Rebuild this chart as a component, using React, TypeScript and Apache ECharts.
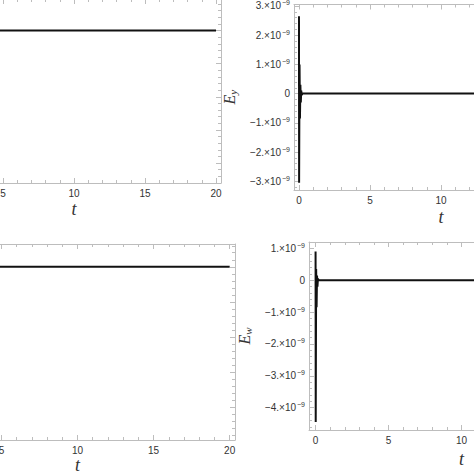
import React, { useEffect, useRef } from "react";
import * as echarts from "echarts";

// Top-left panel (constant series, y labels off-frame)
const exT = [0, 20];
const exValues = [1, 1];
// Bottom-left panel
const ezT = [0, 20];
const ezValues = [1, 1];
// Top-right panel E_y
const eyT = [0, 0.01, 0.04, 0.07, 0.1, 0.13, 0.16, 0.19, 0.25, 20];
const eyValues = [2.65e-9, -3.05e-9, 1.0e-9, -0.85e-9, 0.3e-9, -0.3e-9, 0.1e-9, -0.05e-9, 0, 0];
// Bottom-right panel E_w
const ewT = [0, 0.01, 0.04, 0.07, 0.1, 0.13, 0.16, 0.22, 20];
const ewValues = [0.9e-9, -4.45e-9, 0.35e-9, -0.85e-9, 0.15e-9, -0.2e-9, 0.05e-9, 0, 0];
// Visible tick labels
const tTicksLeft = [5, 10, 15, 20];
const tTicksRight = [0, 5, 10];

const FRAME = "#bdbdbd";
const LABEL = "#333";

function sciLabel(v: number): string {
  const n = Math.round(v / 1e-9);
  if (n === 0) return "{m|0}";
  const s = n < 0 ? "\u2212" + Math.abs(n) : String(n);
  return "{m|" + s + ".\u00d710}{p|\u22129}";
}

export default function App() {
  const ref = useRef<HTMLDivElement>(null);
  useEffect(() => {
    if (!ref.current) return;
    const chart = echarts.init(ref.current, undefined, { renderer: "svg" });

    const panels = [
      { grid: { left: -73, top: -1, width: 294, height: 184 }, x: [-0.35, 20.35], y: [0.08, 1.19], t: exT, v: exValues, sci: false, name: "", tGap: 17, ticks: tTicksLeft },
      { grid: { left: 294, top: 4.5, width: 294, height: 185.5 }, x: [-0.35, 20.35], y: [-3.3e-9, 3.05e-9], t: eyT, v: eyValues, sci: true, name: "{e|E}{s|y}", tGap: 18, ticks: tTicksRight },
      { grid: { left: -80, top: 244, width: 315, height: 196 }, x: [-0.35, 20.35], y: [0.01, 1.13], t: ezT, v: ezValues, sci: false, name: "", tGap: 15.5, ticks: tTicksLeft },
      { grid: { left: 309, top: 242, width: 305, height: 188 }, x: [-0.45, 20.45], y: [-4.7e-9, 1.2e-9], t: ewT, v: ewValues, sci: true, name: "{e|E}{s|w}", tGap: 20, ticks: tTicksRight },
    ];

    const tickCommon = {
      axisTick: { show: true, inside: true, length: 5, lineStyle: { color: FRAME } },
      minorTick: { show: true, splitNumber: 5, length: 3, lineStyle: { color: FRAME } },
      axisLine: { show: true, onZero: false, lineStyle: { color: FRAME, width: 1 } },
      splitLine: { show: false },
    };

    const grids: any[] = [];
    const xAxes: any[] = [];
    const yAxes: any[] = [];
    const series: any[] = [];

    panels.forEach((p, i) => {
      grids.push({ ...p.grid, containLabel: false, outerBoundsMode: "none" });
      xAxes.push({
        type: "value", gridIndex: i, position: "bottom", min: p.x[0], max: p.x[1], splitNumber: 4,
        ...tickCommon,
        axisLabel: {
          show: true, showMinLabel: false, showMaxLabel: false, color: LABEL, fontSize: 10, fontFamily: "Liberation Sans", margin: 5,
          formatter: (v: number) => (p.ticks.indexOf(Math.round(v)) >= 0 && Math.abs(v - Math.round(v)) < 1e-6 ? String(Math.round(v)) : ""),
        },
        name: "t", nameLocation: "middle", nameGap: p.tGap,
        nameTextStyle: { fontFamily: "Liberation Serif", fontStyle: "italic", fontSize: 18, color: LABEL },
      });
      xAxes.push({
        type: "value", gridIndex: i, position: "top", min: p.x[0], max: p.x[1], splitNumber: 4,
        ...tickCommon, axisLabel: { show: false },
      });
      yAxes.push({
        type: "value", gridIndex: i, position: "left", min: p.y[0], max: p.y[1], splitNumber: 5,
        ...tickCommon,
        axisLabel: {
          show: p.sci, showMinLabel: false, showMaxLabel: false, color: LABEL, fontSize: 10, fontFamily: "Liberation Sans", margin: 4,
          formatter: (v: number) => sciLabel(v),
          rich: {
            m: { fontSize: 10, fontFamily: "Liberation Sans", color: LABEL },
            p: { fontSize: 7, fontFamily: "Liberation Sans", color: LABEL, padding: [0, 0, 6, 1] },
          },
        },
        name: p.name, nameLocation: "middle", nameRotate: 90, nameGap: 40,
        nameTextStyle: {
          color: LABEL,
          rich: {
            e: { fontFamily: "Liberation Serif", fontStyle: "italic", fontSize: 16, color: LABEL },
            s: { fontFamily: "Liberation Serif", fontStyle: "italic", fontSize: 11, color: LABEL, padding: [8, 0, 0, 0] },
          },
        },
      });
      yAxes.push({
        type: "value", gridIndex: i, position: "right", min: p.y[0], max: p.y[1], splitNumber: 5,
        ...tickCommon, axisLabel: { show: false },
      });
      series.push({
        type: "line", xAxisIndex: i * 2, yAxisIndex: i * 2, showSymbol: false, symbol: "none",
        lineStyle: { color: "#111", width: 2 },
        data: p.t.map((t, k) => [t, p.v[k]]),
      });
    });

    chart.setOption({
      animation: false,
      backgroundColor: "#fff",
      grid: grids,
      xAxis: xAxes,
      yAxis: yAxes,
      series,
    });
    return () => chart.dispose();
  }, []);
  return <div ref={ref} style={{ width: 474, height: 474, position: "absolute", left: 0, top: 0 }} />;
}
